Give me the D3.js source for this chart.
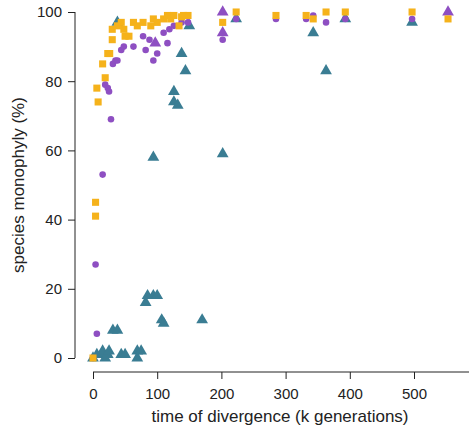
<!DOCTYPE html><html><head><meta charset="utf-8"><script src="https://d3js.org/d3.v7.min.js"></script>
<style>body{margin:0;background:#fff}text{font-family:"Liberation Sans",Arial,sans-serif}</style></head><body><svg id="c" width="474" height="437"></svg>
<script>
const xTicks=[0,100,200,300,400,500], yTicks=[0,20,40,60,80,100];
const orange=[[0,0],[4,45],[4,41],[6,78],[8,74],[15,85],[19,81],[23,88],[26,88],[30,92],[30,95],[38,96],[44,97],[48,95],[50,93],[56,93],[63,97],[69,96],[78,97],[90,96],[94,98],[100,97],[110,98],[116,99],[121,98],[126,99],[134,96],[141,99],[148,99],[138,98.6],[202,97],[223,100],[285,99],[332,99],[343,98],[363,100],[393,100],[497,100],[553,98]];
const purple=[[0,0],[4,27],[6,7],[15,53],[19,79],[23,78],[25,77],[28,69],[31,85],[35,86],[38,86],[44,89],[48,90],[63,90],[78,93],[82,89],[88,92],[94,86],[100,88],[110,94],[116,91],[119,95],[126,96],[138,97],[148,97],[202,92],[223,98],[285,98],[332,98],[343,99],[363,97],[393,98],[497,98]];
const purpleTri=[[97,91],[202,100],[202,94],[553,100]];
const teal=[[0,0],[6,1],[13,1],[15,2],[19,0],[23,1],[25,2],[31,8],[38,8],[44,1],[50,1],[69,2],[69,0],[75,2],[82,16],[85,18],[94,58],[94,18],[100,18],[107,11],[110,10],[126,74],[132,73],[138,88],[144,83],[170,11],[38,97],[126,77],[150,96],[202,59],[223,98],[343,94],[363,83],[393,98],[497,97]];
const svg=d3.select("#c");
const x=d3.scaleLinear().domain([0,500]).range([93,414]);
const y=d3.scaleLinear().domain([0,100]).range([358,12]);
const sym=(t,s)=>d3.symbol().type(t).size(s)();
const draw=(data,t,s,c)=>svg.append("g").selectAll("path").data(data).join("path").attr("d",sym(t,s)).attr("fill",c).attr("transform",d=>`translate(${x(d[0])},${y(d[1])})`);
draw(teal,d3.symbolTriangle,60,"#3a7d93");
draw(purple,d3.symbolCircle,34,"#8e4fc2");
draw(purpleTri,d3.symbolTriangle,60,"#8e4fc2");
draw(orange,d3.symbolSquare,50,"#f5b21b");
const ax=svg.append("g").attr("transform","translate(0,372)").call(d3.axisBottom(x).tickValues(xTicks).tickSize(7).tickPadding(9));
const ay=svg.append("g").attr("transform","translate(75,0)").call(d3.axisLeft(y).tickValues(yTicks).tickSize(7).tickPadding(6));
[ax,ay].forEach(g=>{g.selectAll("text").attr("font-size",15).attr("fill","#222");g.selectAll("line,path").attr("stroke","#222");g.select(".domain").attr("d",null);});
ax.append("line").attr("x1",x(0)).attr("x2",469).attr("stroke","#222");
ay.append("line").attr("y1",y(0)).attr("y2",y(100)).attr("stroke","#222");
svg.append("text").attr("x",280).attr("y",422).attr("text-anchor","middle").attr("font-size",17).attr("fill","#222").text("time of divergence (k generations)");
svg.append("text").attr("transform","translate(24,185) rotate(-90)").attr("text-anchor","middle").attr("font-size",17).attr("fill","#222").text("species monophyly (%)");
</script></body></html>
